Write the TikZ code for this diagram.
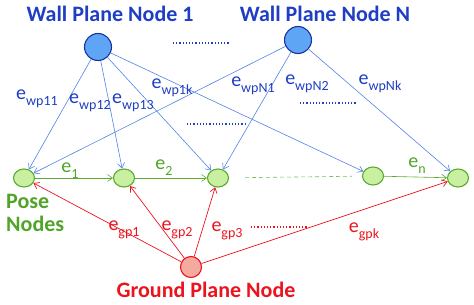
\documentclass[tikz,border=0pt]{standalone}
\usepackage{fontspec}
\setmainfont{Carlito}
\usetikzlibrary{arrows.meta}
\usetikzlibrary{shapes.geometric}
\definecolor{wallblue}{RGB}{31,62,196}
\definecolor{edgeblue}{RGB}{80,130,230}
\definecolor{wallfill}{RGB}{95,165,245}
\definecolor{poseline}{RGB}{90,170,45}
\definecolor{posefill}{RGB}{200,240,160}
\definecolor{posetext}{RGB}{80,165,40}
\definecolor{gpred}{RGB}{235,20,30}
\definecolor{gpfill}{RGB}{245,170,160}
\newcommand{\esub}[1]{\raisebox{-0.3em}{\fontsize{14}{14}\selectfont #1}}
\tikzset{
  wall/.style={circle, draw=wallblue!80!black, fill=wallfill, line width=1.1pt, minimum size=27pt, inner sep=0pt},
  pose/.style={ellipse, draw=poseline, fill=posefill, line width=1.1pt, minimum width=21pt, minimum height=18pt, inner sep=0pt},
  ground/.style={circle, draw=gpred, fill=gpfill, line width=1.1pt, minimum size=21pt, inner sep=0pt},
  title/.style={font=\fontsize{22}{24}\selectfont\bfseries},
  elab/.style={font=\fontsize{20}{22}\selectfont, inner sep=0pt},
  wedge/.style={edgeblue, line width=0.6pt, -{Straight Barb[length=5pt,width=7pt]}},
  pedge/.style={poseline, line width=0.6pt, -{Straight Barb[length=5pt,width=7pt]}},
  gedge/.style={gpred, line width=0.7pt, -{Straight Barb[length=5pt,width=7pt]}},
  dots/.style={line width=1.2pt, dash pattern=on 1.2pt off 2pt}
}
\begin{document}
\begin{tikzpicture}[x=1pt, y=-1pt]
  \useasboundingbox (0,0) rectangle (474,305);
  % nodes
  \node[wall] (w1) at (98,47) {};
  \node[wall] (wn) at (298,40) {};
  \node[pose] (p1) at (24,178) {};
  \node[pose] (p2) at (124,178) {};
  \node[pose] (p3) at (218,178) {};
  \node[pose] (p4) at (373,176) {};
  \node[pose] (p5) at (458,178) {};
  \node[ground] (g) at (191,267) {};
  % titles
  \node[title, text=wallblue] (t1) at (110,14) {Wall Plane Node 1};
  \node[title, text=wallblue] (tn) at (325,14) {Wall Plane Node N};
  \node[title, text=posetext, align=left, anchor=west, inner sep=0pt] (tp) at (6,213) {Pose\\[-1pt]Nodes};
  \node[title, text=gpred] (tg) at (206,290) {Ground Plane Node};
  % wall edges
  \draw[wedge] (w1) -- (p1);
  \draw[wedge] (w1) -- (p2);
  \draw[wedge] (w1) -- (p3);
  \draw[wedge] (w1) -- (p4);
  \draw[wedge] (wn) -- (p1);
  \draw[wedge] (wn) -- (p3);
  \draw[wedge] (wn) -- (p5);
  % pose edges
  \draw[pedge] (p1) -- (p2);
  \draw[pedge] (p2) -- (p3);
  \draw[pedge] (p4) -- (p5);
  \draw[poseline!80, line width=0.6pt, dash pattern=on 4pt off 3pt, shorten <=16pt, shorten >=10pt] (p3) -- (p4);
  % ground edges
  \draw[gedge] (g) -- (p1);
  \draw[gedge] (g) -- (p2);
  \draw[gedge] (g) -- (p3);
  \draw[gedge] (g) -- (p5);
  % labels
  \node[elab, text=wallblue] (lwp11) at (37,99) {e\esub{wp11}};
  \node[elab, text=wallblue] (lwp12) at (90,103) {e\esub{wp12}};
  \node[elab, text=wallblue] (lwp13) at (133,103) {e\esub{wp13}};
  \node[elab, text=wallblue] (lwp1k) at (172,88) {e\esub{wp1k}};
  \node[elab, text=wallblue] (lwpn1) at (253,86) {e\esub{wpN1}};
  \node[elab, text=wallblue] (lwpn2) at (307,84) {e\esub{wpN2}};
  \node[elab, text=wallblue] (lwpnk) at (380,84) {e\esub{wpNk}};
  \node[elab, text=posetext] (le1) at (70,171) {e\esub{1}};
  \node[elab, text=posetext] (le2) at (164,168) {e\esub{2}};
  \node[elab, text=posetext] (len) at (417,166) {e\esub{n}};
  \node[elab, text=gpred] (lgp1) at (124,230) {e\esub{gp1}};
  \node[elab, text=gpred] (lgp2) at (177,230) {e\esub{gp2}};
  \node[elab, text=gpred] (lgp3) at (227,231) {e\esub{gp3}};
  \node[elab, text=gpred] (lgpk) at (364,232) {e\esub{gpk}};
  % dotted rows
  \draw[dots, wallblue] (173,43) -- (230,43);
  \draw[dots, wallblue] (187,124) -- (245,124);
  \draw[dots, wallblue] (300,103) -- (357,103);
  \draw[dots, gpred] (251,227) -- (308,227);
\end{tikzpicture}
\end{document}
